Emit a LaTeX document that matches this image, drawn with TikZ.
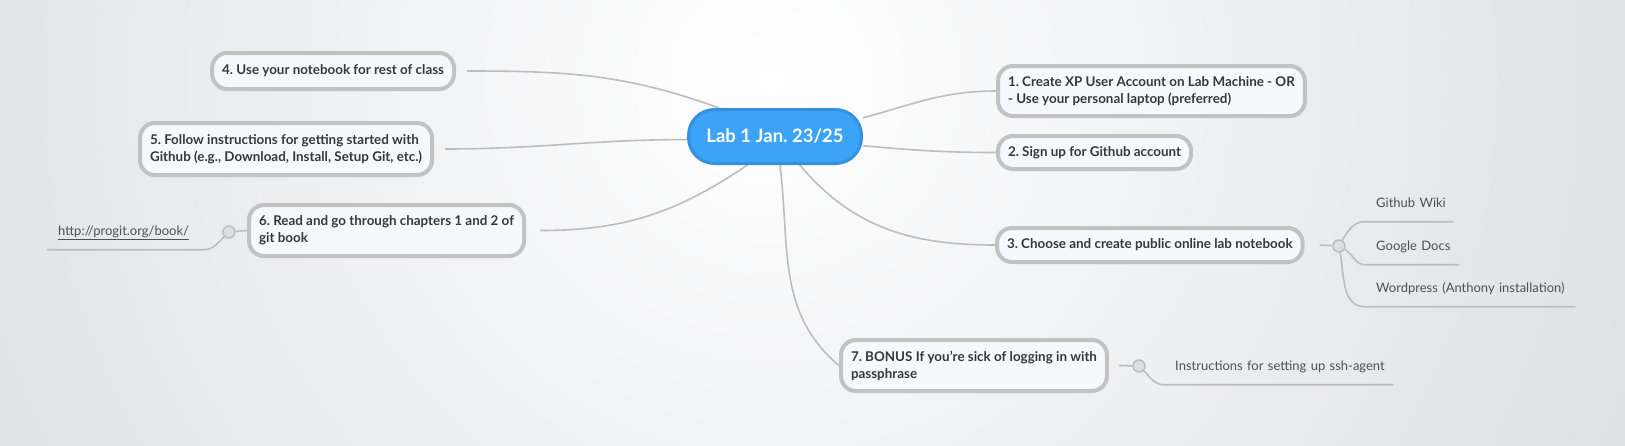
\documentclass[tikz,border=0pt]{standalone}
\usepackage{fontspec}
\setmainfont{Lato}
\usepackage{xcolor}
\usepackage{tikz}
\usetikzlibrary{positioning}
\definecolor{canvas}{HTML}{DCDFE3}
\definecolor{hubblue}{HTML}{3BA4F8}
\definecolor{hubrim}{HTML}{3590E2}
\definecolor{topicfill}{HTML}{F5F8FD}
\definecolor{topicrim}{HTML}{C2C2C2}
\definecolor{linkgray}{HTML}{BDBDBD}
\definecolor{topictext}{HTML}{383838}
\definecolor{leaftext}{HTML}{505050}
\pgfdeclarelayer{background}
\pgfsetlayers{background,main}
\frenchspacing
\begin{document}
\begin{tikzpicture}[x=1pt, y=1pt,
    hub/.style={rounded corners=26pt, draw=hubrim, line width=3pt, fill=hubblue, text=white, font=\fontsize{18.5}{22}\selectfont\bfseries, minimum width=173pt, minimum height=54pt},
    topic/.style={rounded corners=15pt, draw=topicrim, line width=4pt, fill=topicfill, text=topictext, font=\fontsize{13.4}{17}\selectfont\bfseries, align=left, inner xsep=10pt, inner ysep=4pt},
    leaf/.style={text=leaftext, font=\fontsize{13}{16}\selectfont, inner xsep=11pt, inner ysep=11.5pt, text depth=3pt, anchor=base west, align=left,
        execute at begin node={\hbox\bgroup}, execute at end node={\egroup}},
    joint/.style={circle, draw=linkgray, line width=1.5pt, fill=canvas, minimum size=12pt, inner sep=0pt},
    link/.style={draw=linkgray, line width=1.6pt}
]
\useasboundingbox (0,0) rectangle (1625,-445);
% BACKGROUND: soft glow round the centre
\begin{pgfonlayer}{background}
    \fill[canvas] (0,0) rectangle (1625,-445);
    \begin{scope}
        \clip (0,0) rectangle (1625,-445);
        \shade[inner color=white, outer color=canvas] (770,-80) circle (960);
    \end{scope}
\end{pgfonlayer}
% CENTRE
\node[hub] (hub) at (775,-136.5) {Lab 1 Jan. 23/25};
% RIGHT SIDE
\node[topic, anchor=west, minimum height=50pt] (n1) at (996,-91) {1. Create XP User Account on Lab Machine - OR\\- Use your personal laptop (preferred)};
\node[topic, anchor=west, minimum height=33pt] (n2) at (996,-152.5) {2. Sign up for Github account};
\node[topic, anchor=west, minimum height=34pt] (n3) at (995,-245) {3. Choose and create public online lab notebook};
\node[topic, anchor=west, minimum height=51pt] (n7) at (839,-365.5) {7. BONUS If you're sick of logging in with\\passphrase};
% LEFT SIDE
\node[topic, anchor=east, minimum height=36pt] (n4) at (456,-71) {4. Use your notebook for rest of class};
\node[topic, anchor=east, minimum height=52pt] (n5) at (434,-149) {5. Follow instructions for getting started with\\Github (e.g., Download, Install, Setup Git, etc.)};
\node[topic, anchor=east, minimum height=51pt] (n6) at (526,-230.5) {6. Read and go through chapters 1 and 2 of\\git book};
% SUBTOPICS
\node[joint] (j3) at (1339,-246) {};
\node[leaf, text width=66pt] (wiki) at (1365,-207) {Github Wiki};
\node[leaf, text width=72pt] (docs) at (1365,-250) {Google Docs};
\node[leaf, text width=188pt] (wpress) at (1365,-292) {Wordpress (Anthony installation)};
\node[joint] (j6) at (229,-232) {};
\node[leaf, text width=134pt] (book) at (47,-235) {\underline{http://progit.org/book/}};
\node[joint] (j7) at (1139,-366) {};
\node[leaf, text width=207pt] (agent) at (1164,-370) {Instructions for setting up ssh-agent};
% CONNECTORS
\begin{pgfonlayer}{background}
    \draw[link] (hub.12) to[out=15, in=180] (n1.west);
    \draw[link] (hub.354) to[out=-5, in=180] (n2.west);
    \draw[link] (hub.311) to[out=-50, in=180] (n3.west);
    \draw[link] (hub.280) to[out=-83, in=140] (n7.west);
    \draw[link] ([xshift=11pt]n4.east) to[out=0, in=160] (hub.153);
    \draw[link] ([xshift=11pt]n5.east) to[out=0, in=180] (hub.182);
    \draw[link] ([xshift=14pt]n6.east) to[out=0, in=214] (hub.226);
    \draw[link] ([xshift=15pt]n3.east) -- (j3);
    \draw[link] (j6) -- (n6.west);
    \draw[link] ([xshift=10pt]n7.east) -- (j7);
    \draw[link] (j3.60) to[out=60, in=180] (wiki.south west) -- (wiki.south east);
    \draw[link] (j3.-30) to[out=-30, in=180] (docs.south west) -- (docs.south east);
    \draw[link] (j3.-80) to[out=-80, in=180] (wpress.south west) -- (wpress.south east);
    \draw[link] (j6.225) to[out=225, in=0] (book.south east) -- (book.south west);
    \draw[link] (j7.-45) to[out=-45, in=180] (agent.south west) -- (agent.south east);
\end{pgfonlayer}
\end{tikzpicture}
\end{document}
